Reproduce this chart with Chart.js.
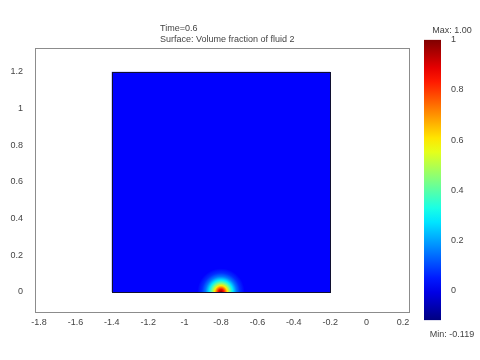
<!DOCTYPE html>
<html>
<head>
<meta charset="utf-8">
<script src="https://cdn.jsdelivr.net/npm/chart.js@4"></script>
<style>
  html, body { margin: 0; padding: 0; background: #fff; }
  #wrap { position: relative; width: 480px; height: 360px; font-family: "Liberation Sans", Arial, sans-serif; }
  #main { position: absolute; left: 0; top: 0; }
  #cbar { position: absolute; left: 410px; top: 0; }
  #title { position: absolute; left: 160px; top: 23px; font-size: 9px; line-height: 11px; color: #444; white-space: nowrap; }
</style>
</head>
<body>
<div id="wrap">
  <canvas id="main" width="480" height="360"></canvas>
  <canvas id="cbar" width="70" height="360"></canvas>
  <div id="title">Time=0.6<br>Surface: Volume fraction of fluid 2</div>
</div>
<script>
// plot window and ticks
const xRange = [-1.822, 0.233];
const yRange = [-0.109, 1.33];
const tickStep = 0.2;

// fluid domain (rectangle) and its background value
const domainX = [-1.4, -0.2];
const domainY = [0, 1.2];
const fieldValue = 0.02;

// fluid 2 spot at bottom of domain: radial profile
const spotCenter = { x: -0.8, y: 0 };
const spotRadii = [0, 0.015, 0.035, 0.05, 0.065, 0.085, 0.105, 0.13];
const spotValues = [1.0, 0.85, 0.6, 0.42, 0.28, 0.15, 0.07, 0.02];

// colour range
const colorMin = -0.119;
const colorMax = 1.0;
const colorTicks = [0, 0.2, 0.4, 0.6, 0.8, 1];

const textColor = "#444";
const font = { family: "'Liberation Sans', Arial, sans-serif", size: 9, weight: "normal" };
const fmt = v => String(Number(v.toFixed(3)));

// jet colour map
function jet(v) {
  let f = (v - colorMin) / (colorMax - colorMin);
  f = Math.max(0, Math.min(1, f));
  const r = Math.max(0, Math.min(1, 1.5 - Math.abs(4 * f - 3)));
  const g = Math.max(0, Math.min(1, 1.5 - Math.abs(4 * f - 2)));
  const b = Math.max(0, Math.min(1, 1.5 - Math.abs(4 * f - 1)));
  return `rgb(${Math.round(r * 255)},${Math.round(g * 255)},${Math.round(b * 255)})`;
}

const surfacePlugin = {
  id: "surface",
  beforeDatasetsDraw(chart) {
    const { ctx, scales: { x, y } } = chart;
    const x0 = x.getPixelForValue(domainX[0]), x1 = x.getPixelForValue(domainX[1]);
    const y0 = y.getPixelForValue(domainY[0]), y1 = y.getPixelForValue(domainY[1]);
    ctx.save();
    ctx.fillStyle = jet(fieldValue);
    ctx.fillRect(x0, y1, x1 - x0, y0 - y1);

    // spot, clipped to the domain
    ctx.beginPath();
    ctx.rect(x0, y1, x1 - x0, y0 - y1);
    ctx.clip();
    const cx = x.getPixelForValue(spotCenter.x);
    const cy = y.getPixelForValue(spotCenter.y);
    const pxPerUnit = x.getPixelForValue(1) - x.getPixelForValue(0);
    const rMax = spotRadii[spotRadii.length - 1];
    const grad = ctx.createRadialGradient(cx, cy, 0, cx, cy, rMax * pxPerUnit);
    spotRadii.forEach((r, i) => grad.addColorStop(r / rMax, jet(spotValues[i])));
    ctx.fillStyle = grad;
    ctx.beginPath();
    ctx.arc(cx, cy, rMax * pxPerUnit, 0, Math.PI * 2);
    ctx.fill();
    ctx.restore();

    ctx.save();
    ctx.strokeStyle = "#101030";
    ctx.lineWidth = 1;
    ctx.strokeRect(Math.round(x0) + 0.5, Math.round(y1) + 0.5, Math.round(x1 - x0), Math.round(y0 - y1));
    ctx.restore();
  },
  afterDraw(chart) {
    const { ctx, chartArea: a } = chart;
    ctx.save();
    ctx.strokeStyle = "#8c8c8c";
    ctx.lineWidth = 1;
    ctx.strokeRect(Math.round(a.left) + 0.5, Math.round(a.top) + 0.5, Math.round(a.right - a.left), Math.round(a.bottom - a.top));
    ctx.restore();
  }
};

new Chart(document.getElementById("main"), {
  type: "scatter",
  data: { datasets: [] },
  options: {
    responsive: false,
    animation: false,
    layout: { padding: { top: 48, right: 71, left: 0, bottom: 0 } },
    plugins: { legend: { display: false }, tooltip: { enabled: false } },
    scales: {
      x: {
        type: "linear",
        min: xRange[0], max: xRange[1],
        grid: { display: false },
        border: { display: false },
        ticks: { stepSize: tickStep, includeBounds: false, color: textColor, font, padding: -3, maxRotation: 0, callback: fmt },
        afterFit(s) { s.height = 48; }
      },
      y: {
        type: "linear",
        min: yRange[0], max: yRange[1],
        grid: { display: false },
        border: { display: false },
        ticks: { stepSize: tickStep, includeBounds: false, color: textColor, font, padding: 4, callback: fmt },
        afterFit(s) { s.width = 35; }
      }
    }
  },
  plugins: [surfacePlugin]
});

new Chart(document.getElementById("cbar"), {
  type: "bar",
  data: {
    labels: [""],
    datasets: [{
      data: [[colorMin, colorMax]],
      barPercentage: 1,
      categoryPercentage: 1,
      borderWidth: 0,
      backgroundColor(c) {
        const a = c.chart.chartArea;
        if (!a) return jet(0);
        const g = c.chart.ctx.createLinearGradient(0, a.bottom, 0, a.top);
        for (let i = 0; i <= 20; i++) {
          const v = colorMin + (colorMax - colorMin) * i / 20;
          g.addColorStop(i / 20, jet(v));
        }
        return g;
      }
    }]
  },
  options: {
    responsive: false,
    animation: false,
    layout: { padding: { left: 14, right: 0, top: 0, bottom: 0 } },
    plugins: {
      legend: { display: false },
      tooltip: { enabled: false },
      title: { display: true, text: "Max: 1.00", color: textColor, font, padding: { top: 25, bottom: 4 } },
      subtitle: { display: true, position: "bottom", text: "Min: -0.119", color: textColor, font, padding: { top: 9, bottom: 20 } }
    },
    scales: {
      x: { display: false },
      y: {
        position: "right",
        min: colorMin, max: colorMax,
        grid: { display: false },
        border: { display: false },
        afterBuildTicks(s) { s.ticks = colorTicks.map(v => ({ value: v })); },
        ticks: { color: textColor, font, padding: 2, callback: fmt },
        afterFit(s) { s.width = 39; }
      }
    }
  }
});
</script>
</body>
</html>
